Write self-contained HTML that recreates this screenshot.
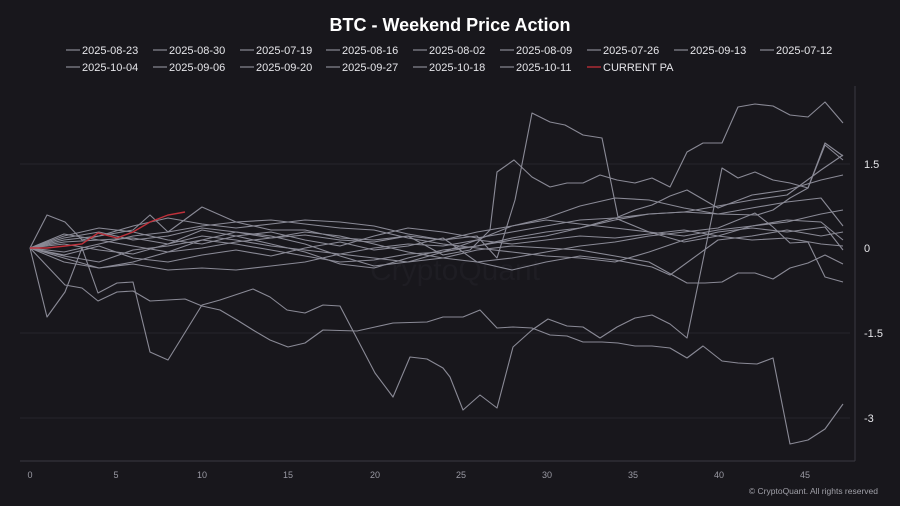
<!DOCTYPE html>
<html><head><meta charset="utf-8"><style>
html,body{margin:0;padding:0;background:#18171c;}
svg{display:block;font-family:"Liberation Sans",sans-serif;}
</style></head><body>
<svg width="900" height="506" viewBox="0 0 900 506" xmlns="http://www.w3.org/2000/svg">
<rect width="900" height="506" fill="#18171c"/>
<text x="450" y="31" text-anchor="middle" fill="#fff" font-size="18" font-weight="bold">BTC - Weekend Price Action</text>
<g font-size="11" fill="#e6e6ea">
<g stroke="#8a8a96" stroke-width="1.2">
<line x1="66" y1="50" x2="80" y2="50"/><line x1="153" y1="50" x2="167" y2="50"/><line x1="240" y1="50" x2="254" y2="50"/><line x1="326" y1="50" x2="340" y2="50"/><line x1="413" y1="50" x2="427" y2="50"/><line x1="500" y1="50" x2="514" y2="50"/><line x1="587" y1="50" x2="601" y2="50"/><line x1="674" y1="50" x2="688" y2="50"/><line x1="760" y1="50" x2="774" y2="50"/>
<line x1="66" y1="67" x2="80" y2="67"/><line x1="153" y1="67" x2="167" y2="67"/><line x1="240" y1="67" x2="254" y2="67"/><line x1="326" y1="67" x2="340" y2="67"/><line x1="413" y1="67" x2="427" y2="67"/><line x1="500" y1="67" x2="514" y2="67"/>
</g>
<line x1="587" y1="67" x2="601" y2="67" stroke="#d2303a" stroke-width="1.2"/>
<text x="82" y="54">2025-08-23</text><text x="169" y="54">2025-08-30</text><text x="256" y="54">2025-07-19</text><text x="342" y="54">2025-08-16</text><text x="429" y="54">2025-08-02</text><text x="516" y="54">2025-08-09</text><text x="603" y="54">2025-07-26</text><text x="690" y="54">2025-09-13</text><text x="776" y="54">2025-07-12</text>
<text x="82" y="71">2025-10-04</text><text x="169" y="71">2025-09-06</text><text x="256" y="71">2025-09-20</text><text x="342" y="71">2025-09-27</text><text x="429" y="71">2025-10-18</text><text x="516" y="71">2025-10-11</text><text x="603" y="71">CURRENT PA</text>
</g>
<g stroke="#26252b" stroke-width="1">
<line x1="20" y1="164" x2="850" y2="164"/><line x1="20" y1="333" x2="850" y2="333"/><line x1="20" y1="418" x2="850" y2="418"/>
</g>
<line x1="20" y1="461" x2="855" y2="461" stroke="#3a3a42"/>
<line x1="855" y1="86" x2="855" y2="461" stroke="#3a3a42"/>
<g font-size="11" fill="#e6e6ea">
<text x="864" y="168">1.5</text><text x="864" y="252">0</text><text x="864" y="337">-1.5</text><text x="864" y="422">-3</text>
</g>
<g font-size="9" fill="#9a9aa4" text-anchor="middle">
<text x="30" y="478">0</text><text x="116" y="478">5</text><text x="202" y="478">10</text><text x="288" y="478">15</text><text x="375" y="478">20</text><text x="461" y="478">25</text><text x="547" y="478">30</text><text x="633" y="478">35</text><text x="719" y="478">40</text><text x="805" y="478">45</text>
</g>
<text x="455" y="280" font-size="30" fill="#1e1d23" text-anchor="middle">CryptoQuant</text>
<text x="878" y="494" font-size="8.5" fill="#a0a0a8" text-anchor="end">© CryptoQuant. All rights reserved</text>
<g fill="none" stroke="#8a8a96" stroke-width="1.1" stroke-linejoin="round">
<polyline points="30,248 47,317 65,292 82,248 98,293 117,283 133,282 150,352 168,360 202,305 220,300 253,289 270,297 287,310 305,313 323,305 340,306 375,373 393,397 410,357 427,359 443,368 450,377 463,410 480,395 497,408 513,347 532,330 548,319 567,326 583,327 600,338 617,327 635,318 652,315 670,324 687,338 722,168 738,178 755,172 773,180 790,183 808,188 825,145 843,160"/>
<polyline points="30,248 65,285 82,288 98,301 117,292 133,291 150,301 185,299 202,306 220,310 237,320 253,330 270,340 288,347 305,343 323,330 357,331 375,327 393,323 427,322 443,317 463,317 480,310 497,328 513,327 532,328 550,335 567,336 583,342 602,342 618,343 635,346 652,346 670,348 687,358 703,346 722,361 738,363 757,364 773,358 790,444 808,440 825,429 843,404"/>
<polyline points="30,248 47,215 65,222 82,240 99,236 133,230 150,215 168,232 202,207 236,222 271,230 305,230 340,238 374,240 408,236 443,255 470,250 490,230 497,172 514,160 532,177 550,187 567,183 583,183 600,175 617,180 635,183 652,178 670,187 687,152 703,143 722,143 738,107 755,104 773,106 790,115 808,117 825,102 843,123"/>
<polyline points="30,248 64,238 99,232 133,240 168,236 202,228 236,232 271,238 305,235 340,240 374,242 408,236 443,240 477,236 497,258 515,200 532,113 550,122 565,125 583,135 602,138 618,217 635,210 652,205 670,196 687,190 718,208 752,195 787,190 821,180 843,175"/>
<polyline points="30,248 64,256 99,262 133,250 168,246 202,240 236,244 271,250 305,256 340,262 374,260 408,254 443,252 477,246 512,240 546,236 580,228 615,218 649,214 684,212 718,206 752,200 787,195 821,170 843,155"/>
<polyline points="30,248 64,244 99,250 133,254 168,244 202,236 236,240 271,246 305,250 340,254 374,258 408,262 443,258 477,250 512,246 546,248 580,250 615,256 649,262 687,283 705,283 722,282 738,273 755,273 773,279 790,268 808,263 825,255 843,264"/>
<polyline points="30,248 64,236 99,228 133,232 168,240 202,244 236,236 271,232 305,240 340,246 374,236 408,228 443,232 477,238 512,232 546,226 580,220 615,218 649,232 684,242 718,236 752,226 787,220 821,222 843,240"/>
<polyline points="30,248 64,252 99,244 133,236 168,232 202,226 236,222 271,220 305,224 340,228 374,230 408,238 443,244 477,248 512,252 546,256 580,258 615,262 649,252 684,240 718,232 752,228 787,232 825,227 843,250"/>
<polyline points="30,248 64,258 99,268 133,262 168,252 202,240 236,232 271,236 305,244 340,256 374,266 408,262 443,252 477,240 512,226 546,218 580,206 615,198 649,200 684,208 718,214 757,215 773,210 790,198 808,188 825,143 843,156"/>
<polyline points="30,248 64,240 99,236 133,226 168,218 202,224 236,228 271,224 305,220 340,222 374,226 408,234 443,240 477,232 512,226 546,220 580,224 615,228 649,232 684,236 718,230 752,226 787,222 821,214 843,210"/>
<polyline points="30,248 64,262 99,268 133,264 168,270 202,268 236,270 271,266 305,262 340,254 374,248 408,244 443,246 477,240 512,244 546,240 580,236 615,238 649,234 684,230 718,236 752,240 787,238 821,244 843,246"/>
<polyline points="30,248 64,242 99,240 133,246 168,252 202,248 236,242 271,238 305,232 340,236 374,244 408,252 443,258 477,262 512,258 546,252 580,246 615,242 649,236 684,232 718,228 755,213 773,227 790,243 808,242 825,277 843,282"/>
<polyline points="30,248 64,234 99,240 133,238 168,244 202,230 236,236 271,244 305,252 340,264 374,268 408,258 443,250 477,246 512,238 546,232 580,228 615,220 649,214 684,212 718,214 752,208 787,202 821,198 843,226"/>
<polyline points="30,248 64,255 99,246 133,258 168,262 202,255 236,250 271,256 305,248 340,242 374,250 408,246 443,238 477,262 512,270 546,262 580,256 615,260 652,267 670,275 718,240 752,236 787,230 821,236 843,232"/>
</g>
<polyline points="30,248 47,248 65,246 82,244 98,233 117,238 133,232 150,222 168,215 185,212" fill="none" stroke="#c0313b" stroke-width="1.4"/>
</svg>
</body></html>
